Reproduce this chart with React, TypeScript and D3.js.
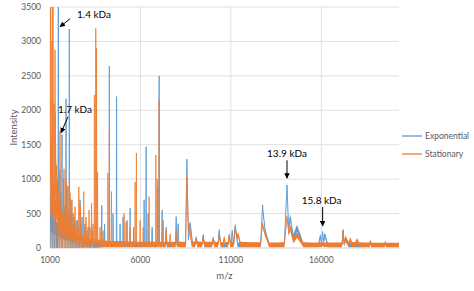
import React from "react";
import * as d3 from "d3";

const W = 474;
const H = 291;
const PL = 50, PR = 399, PT = 7, PB = 248;

const xDomain = [1000, 20300];
const yDomain = [0, 3500];
const xTicks = [1000, 6000, 11000, 16000];
const yTicks = [0, 500, 1000, 1500, 2000, 2500, 3000, 3500];
const seriesNames = ["Exponential", "Stationary"];
const seriesColors = ["#5B9BD5", "#ED7D31"];

// peaks: [m/z, intensity, left half-width, right half-width]
const expPeaks: number[][] = [
  [1055, 800], [1110, 600], [1200, 900], [1300, 700], [1460, 4500], [1554, 1130],
  [1600, 800], [1664, 1650], [1747, 1000], [1800, 600], [1886, 2170], [1941, 900],
  [2000, 500], [2068, 3180], [2163, 700], [2273, 500], [2350, 350], [2440, 400],
  [2550, 300], [2661, 700], [2772, 450], [2938, 350], [3104, 300], [3326, 250],
  [3862, 620], [4018, 350], [4283, 2640], [4488, 500], [4682, 2200], [4876, 350],
  [5042, 450], [5263, 400], [5430, 580], [5624, 300], [6205, 700], [6316, 1470],
  [6426, 500], [6647, 300, 30, 30], [6952, 900], [7035, 2500], [7201, 550, 30, 30],
  [7423, 300, 40, 40], [7977, 455, 40, 40], [8087, 350, 40, 40], [8569, 1290, 70, 90],
  [8752, 360, 120, 140], [9084, 150, 70, 70], [9472, 190, 70, 70], [10025, 145, 70, 70],
  [10357, 260, 70, 90], [10911, 190, 70, 70], [11077, 250, 70, 70], [11243, 330, 90, 140],
  [12755, 625, 110, 150], [12900, 250, 120, 220], [14106, 915, 150, 90],
  [14289, 450, 220, 180], [14660, 290, 300, 350], [15950, 180, 100, 80],
  [16077, 237, 70, 70], [16200, 200, 80, 160], [17207, 260, 60, 60],
  [17335, 120, 80, 220], [18718, 90, 50, 50], [19549, 70, 50, 50],
];

const staPeaks: number[][] = [
  [1028, 4200], [1055, 3000], [1080, 1500], [1127, 4500], [1166, 3600], [1221, 2100],
  [1277, 2875], [1304, 1960], [1360, 1200], [1388, 1000], [1415, 950], [1443, 700],
  [1498, 850], [1554, 1700], [1609, 600], [1692, 500], [1747, 700], [1775, 1150],
  [1831, 450], [1886, 1000], [1941, 600], [1997, 900], [2052, 400], [2107, 800],
  [2163, 500], [2218, 700], [2273, 350], [2329, 450], [2385, 600], [2468, 300],
  [2523, 400], [2594, 890], [2689, 620], [2744, 350], [2866, 820], [2938, 300],
  [2993, 450], [3048, 250], [3159, 550], [3215, 300], [3298, 650], [3353, 200],
  [3381, 350], [3454, 2220], [3530, 3190], [3575, 2900], [3630, 1100], [3769, 300],
  [3935, 250], [4200, 1090], [4283, 1700], [4400, 820], [5097, 500], [5208, 380],
  [5430, 300], [5707, 960], [5778, 1380], [5983, 400], [6149, 300], [6481, 745],
  [6853, 1350], [6925, 1000], [7035, 2150], [7256, 400, 30, 30], [7423, 250, 40, 40],
  [7644, 200, 40, 40], [7977, 250, 40, 40], [8569, 1035, 70, 90], [8696, 350, 120, 140],
  [9084, 120, 70, 70], [9472, 150, 70, 70], [10025, 120, 70, 70], [10357, 180, 70, 90],
  [10634, 150, 70, 70], [10911, 170, 70, 70], [11243, 290, 90, 140], [11409, 200, 100, 120],
  [12755, 360, 110, 150], [12900, 200, 120, 220], [14106, 455, 150, 100],
  [14289, 300, 220, 180], [14660, 190, 300, 350], [16077, 60, 60, 60],
  [17207, 260, 60, 60], [17335, 150, 80, 160], [17611, 120, 100, 100],
  [17982, 110, 100, 100], [18718, 90, 50, 50], [19549, 70, 50, 50],
];

// noise band envelope
const noiseMz = [1000, 1150, 1300, 1450, 1600, 1800, 2000, 2250, 2500, 3000, 3500, 4000, 4500, 5000,
  5500, 6000, 6500, 7000, 7500, 8000, 8500, 9000, 9500, 10000, 10500, 11000, 11500, 12000,
  12500, 13000, 13500, 14000, 14500, 15000, 15500, 16000, 16500, 17000, 17500, 18000,
  18500, 19000, 19500, 20000, 20300];
const staNoiseHigh = [1000, 950, 900, 700, 450, 350, 300, 250, 200, 150, 130, 110, 100, 100,
  95, 90, 95, 90, 90, 90, 90, 95, 90, 90, 85, 90, 90, 85,
  85, 80, 80, 85, 110, 85, 80, 80, 80, 80, 90, 85,
  80, 75, 75, 75, 75];
const staNoiseLow = [0, 0, 0, 0, 0, 0, 0, 5, 5, 10, 10, 15, 15, 15,
  15, 15, 15, 15, 15, 15, 15, 15, 15, 15, 15, 15, 15, 15,
  15, 15, 15, 15, 20, 15, 15, 15, 15, 15, 15, 15,
  15, 15, 15, 15, 15];
const expNoiseHigh = [500, 450, 400, 350, 300, 250, 220, 180, 150, 120, 100, 95, 90, 85,
  85, 80, 80, 80, 80, 80, 85, 80, 80, 75, 75, 80, 80, 75,
  75, 70, 70, 80, 120, 80, 70, 70, 70, 70, 75, 70,
  65, 65, 65, 65, 65];
const expNoiseLow = [0, 0, 0, 0, 0, 0, 0, 0, 0, 5, 5, 10, 10, 10,
  10, 10, 10, 10, 10, 10, 10, 10, 10, 10, 10, 10, 10, 10,
  10, 10, 10, 10, 15, 10, 10, 10, 10, 10, 10, 10,
  10, 10, 10, 10, 10];

const annLabels = ["1.4 kDa", "1.7 kDa", "13.9 kDa", "15.8 kDa"];
const annMz = [1554, 1609, 14106, 16077];
const annIntensity = [3213, 1674, 1012, 319];

const FONT = "Lato, 'Open Sans', sans-serif";

type Pt = { m: number; v: number; lo: number; hi: number };

function interp(arr: number[], m: number) {
  const i = d3.bisectRight(noiseMz, m);
  if (i <= 0) return arr[0];
  if (i >= noiseMz.length) return arr[arr.length - 1];
  const t = (m - noiseMz[i - 1]) / (noiseMz[i] - noiseMz[i - 1]);
  return arr[i - 1] + (arr[i] - arr[i - 1]) * t;
}

function buildSeries(peaks: number[][], low: number[], high: number[]): Pt[] {
  const xs = new Set<number>(noiseMz);
  const P = peaks.map((p) => [p[0], p[1], p[2] ?? 15, p[3] ?? 15]);
  P.forEach(([m, , wl, wr]) => { xs.add(m - wl); xs.add(m); xs.add(m + wr); });
  const sorted = Array.from(xs).filter((x) => x >= xDomain[0] && x <= xDomain[1]).sort((a, b) => a - b);
  return sorted.map((m) => {
    const lo = interp(low, m);
    const hi = interp(high, m);
    const base = (lo + hi) / 2;
    let v = base;
    for (const [pm, h, wl, wr] of P) {
      if (m >= pm - wl && m <= pm + wr) {
        const f = m <= pm ? 1 - (pm - m) / wl : 1 - (m - pm) / wr;
        v = Math.max(v, base + (h - base) * f);
      }
    }
    return { m, v, lo: Math.max(0, v - (base - lo)), hi: v + (hi - base) };
  });
}

export default function App() {
  const x = d3.scaleLinear().domain(xDomain).range([PL, PR]);
  const y = d3.scaleLinear().domain(yDomain).range([PB, PT]);

  const line = d3.line<Pt>().x((d) => x(d.m)).y((d) => y(d.v));
  const band = d3.area<Pt>().x((d) => x(d.m)).y0((d) => y(d.lo)).y1((d) => y(d.hi));

  const expS = buildSeries(expPeaks, expNoiseLow, expNoiseHigh);
  const staS = buildSeries(staPeaks, staNoiseLow, staNoiseHigh);

  const annLayout = [
    { tdx: 10, tdy: -8, lx: 17, ly: -12, anchor: "start" },
    { tdx: 7, tdy: -16, lx: -3, ly: -23, anchor: "start" },
    { tdx: 0, tdy: -18, lx: 0, ly: -25, anchor: "middle" },
    { tdx: 0, tdy: -19, lx: -1, ly: -26, anchor: "middle" },
  ];

  return (
    <svg width={W} height={H} style={{ position: "fixed", left: 0, top: 0, background: "#fff" }}
      fontFamily={FONT}>
      <defs>
        <clipPath id="plot">
          <rect x={PL} y={PT} width={PR - PL} height={PB - PT} />
        </clipPath>
        <marker id="arrow" viewBox="0 0 10 10" refX="9" refY="5" markerWidth="5.5" markerHeight="5.5"
          orient="auto" markerUnits="userSpaceOnUse">
          <path d="M0,0 L10,5 L0,10 z" fill="#000" />
        </marker>
      </defs>
      <rect width={W} height={H} fill="#fff" />
      {yTicks.map((t) => (
        <line key={"gy" + t} x1={PL} x2={PR} y1={y(t)} y2={y(t)} stroke={t === 0 ? "#d0d0d0" : "#e0e0e0"} strokeWidth={1} />
      ))}
      {xTicks.map((t) => (
        <line key={"gx" + t} x1={x(t)} x2={x(t)} y1={PT} y2={PB} stroke="#e0e0e0" strokeWidth={1} />
      ))}
      <g clipPath="url(#plot)">
        <path d={band(expS) || ""} fill={seriesColors[0]} />
        <path d={line(expS) || ""} fill="none" stroke={seriesColors[0]} strokeWidth={1} strokeLinejoin="round" strokeOpacity={0.9} />
        <path d={band(staS) || ""} fill={seriesColors[1]} />
        <path d={line(staS) || ""} fill="none" stroke={seriesColors[1]} strokeWidth={1} strokeLinejoin="round" strokeOpacity={0.8} />
      </g>
      {yTicks.map((t) => (
        <text key={"ty" + t} x={PL - 9} y={y(t)} dy="0.35em" textAnchor="end" fontSize={8.5} fill="#595959">{t}</text>
      ))}
      {xTicks.map((t) => (
        <text key={"tx" + t} x={x(t)} y={PB + 12} dy="0.35em" textAnchor="middle" fontSize={8.5} fill="#595959">{t}</text>
      ))}
      <text x={(PL + PR) / 2} y={276} dy="0.35em" textAnchor="middle" fontSize={9.5} fill="#595959">m/z</text>
      <text transform={`translate(14,${(PT + PB) / 2}) rotate(-90)`} dy="0.35em" textAnchor="middle" fontSize={9.5} fill="#595959">Intensity</text>
      {annLabels.map((lab, i) => {
        const tx = x(annMz[i]);
        const ty = y(annIntensity[i]);
        const L = annLayout[i];
        return (
          <g key={lab}>
            <line x1={tx + L.tdx} y1={ty + L.tdy} x2={tx} y2={ty} stroke="#000" strokeWidth={1} markerEnd="url(#arrow)" />
            <text x={tx + L.lx} y={ty + L.ly} dy="0.35em" textAnchor={L.anchor as any} fontSize={10} fill="#000">{lab}</text>
          </g>
        );
      })}
      {seriesNames.map((n, i) => (
        <g key={n}>
          <line x1={402} x2={422} y1={136 + i * 18} y2={136 + i * 18} stroke={seriesColors[i]} strokeWidth={1.3} />
          <text x={425} y={136 + i * 18} dy="0.35em" fontSize={8.5} fill="#595959">{n}</text>
        </g>
      ))}
    </svg>
  );
}
